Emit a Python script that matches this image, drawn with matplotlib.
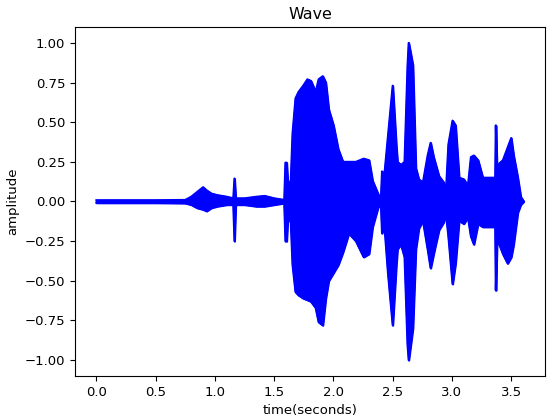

import matplotlib
matplotlib.use("Agg")
import matplotlib.pyplot as plt
import numpy as np

# time (s) and upper / lower envelope of the amplitude
TIME = [
    0.00, 0.50, 0.75, 0.80, 0.85, 0.90, 0.93, 0.97, 1.02, 1.10,
    1.155, 1.165, 1.175, 1.25, 1.35, 1.42, 1.50, 1.585, 1.595, 1.605,
    1.615, 1.64, 1.655, 1.68, 1.705, 1.745, 1.78, 1.81, 1.85, 1.875,
    1.91, 1.935, 1.96, 2.00, 2.04, 2.08, 2.13, 2.19, 2.255, 2.30,
    2.33, 2.375, 2.40, 2.41, 2.43, 2.46, 2.50, 2.53, 2.54, 2.57,
    2.60, 2.625, 2.635, 2.67, 2.695, 2.72, 2.755, 2.795, 2.82, 2.845,
    2.89, 2.93, 2.95, 2.97, 3.005, 3.03, 3.06, 3.10, 3.135, 3.16,
    3.185, 3.22, 3.26, 3.33, 3.365, 3.37, 3.38, 3.40, 3.43, 3.47,
    3.50, 3.52, 3.555, 3.58, 3.605,
]
UPPER = [
    0.008, 0.008, 0.01, 0.03, 0.06, 0.09, 0.07, 0.05, 0.04, 0.03,
    0.02, 0.145, 0.02, 0.02, 0.03, 0.035, 0.02, 0.01, 0.245, 0.245,
    0.11, 0.13, 0.43, 0.65, 0.69, 0.73, 0.77, 0.76, 0.69, 0.77,
    0.79, 0.75, 0.58, 0.48, 0.33, 0.25, 0.25, 0.25, 0.27, 0.26,
    0.13, 0.05, 0.005, 0.19, 0.17, 0.41, 0.73, 0.35, 0.25, 0.23,
    0.25, 0.85, 1.00, 0.86, 0.21, 0.14, 0.12, 0.29, 0.37, 0.28,
    0.16, 0.12, 0.07, 0.36, 0.51, 0.48, 0.15, 0.14, 0.10, 0.28,
    0.29, 0.26, 0.15, 0.15, 0.15, 0.48, 0.20, 0.24, 0.26, 0.34,
    0.40, 0.29, 0.15, 0.03, 0.0,
]
LOWER = [
    -0.008, -0.008, -0.01, -0.02, -0.04, -0.05, -0.06, -0.04, -0.03, -0.02,
    -0.02, -0.25, -0.02, -0.02, -0.03, -0.03, -0.02, -0.01, -0.25, -0.25,
    -0.10, -0.13, -0.40, -0.57, -0.59, -0.61, -0.62, -0.63, -0.67, -0.76,
    -0.78, -0.61, -0.50, -0.45, -0.40, -0.32, -0.20, -0.25, -0.35, -0.33,
    -0.16, -0.04, -0.005, -0.20, -0.15, -0.45, -0.78, -0.40, -0.30, -0.27,
    -0.35, -0.90, -1.00, -0.80, -0.30, -0.17, -0.12, -0.30, -0.42, -0.33,
    -0.18, -0.13, -0.08, -0.22, -0.52, -0.39, -0.12, -0.14, -0.10, -0.22,
    -0.27, -0.14, -0.16, -0.16, -0.16, -0.56, -0.26, -0.27, -0.33, -0.39,
    -0.35, -0.27, -0.07, -0.02, 0.0,
]

plt.rcParams["font.size"] = 9.5

fig, ax = plt.subplots(figsize=(5.5, 4.2), dpi=100)
fig.subplots_adjust(left=0.1364, right=0.9909, top=0.9357, bottom=0.1048)

t = np.array(TIME)
ax.fill_between(t, LOWER, UPPER, color="blue", edgecolor="blue", linewidth=1.5)
ax.plot(t, UPPER, color="blue", linewidth=1.5)
ax.plot(t, LOWER, color="blue", linewidth=1.5)

ax.set_title("Wave")
ax.set_xlabel("time(seconds)")
ax.set_ylabel("amplitude")
ax.set_xticks(np.arange(0, 3.6, 0.5))
ax.set_yticks(np.arange(-1.0, 1.01, 0.25))
ax.set_ylim(-1.1, 1.1)

fig.savefig("out.png", dpi=100)
